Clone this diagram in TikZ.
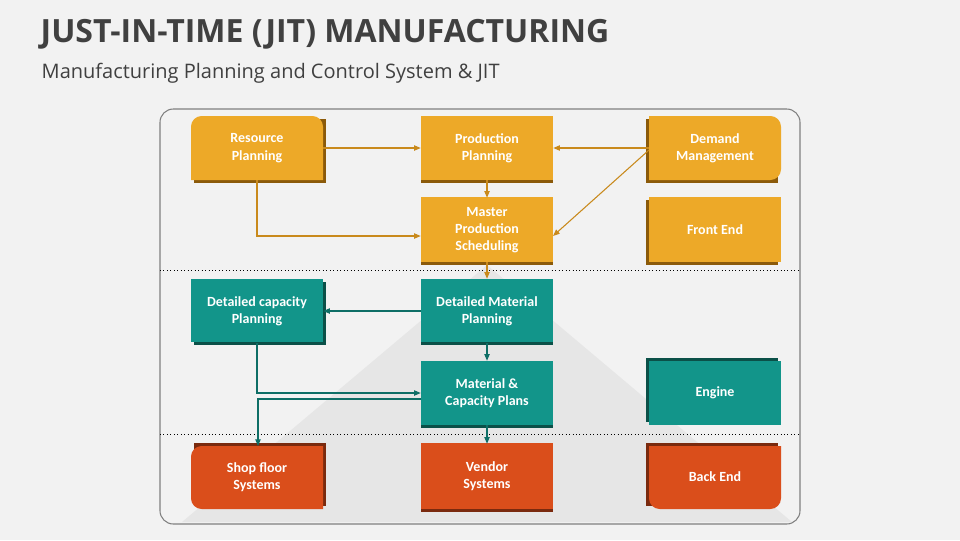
\documentclass[tikz,border=0pt]{standalone}
\usepackage{fontspec}
\setmainfont{Carlito}
\newfontfamily\titlefont{Open Sans}
\usetikzlibrary{arrows.meta}
\definecolor{bg}{HTML}{F2F2F2}
\definecolor{tri}{HTML}{E6E6E6}
\definecolor{org}{HTML}{EDA928}
\definecolor{orgd}{HTML}{8B5A0A}
\definecolor{orgl}{HTML}{C98A1C}
\definecolor{tea}{HTML}{12958A}
\definecolor{tead}{HTML}{0B5048}
\definecolor{teal2}{HTML}{0E6E66}
\definecolor{red1}{HTML}{DA4E1B}
\definecolor{redd}{HTML}{7A2A0E}
\definecolor{ttl}{HTML}{404040}
\begin{document}
\begin{tikzpicture}[x=0.75pt,y=-0.75pt,
 box/.style={minimum width=99pt,minimum height=48pt,text=white,align=center,font=\fontsize{10.5}{13}\selectfont\bfseries,inner sep=0pt},
 oarr/.style={draw=orgl,line width=0.8pt,-{Triangle[length=5pt,width=4pt]}},
 tarr/.style={draw=teal2,line width=0.8pt,-{Triangle[length=5pt,width=4pt]}}]
\fill[bg] (0,0) rectangle (960,540);
\useasboundingbox (0,0) rectangle (960,540);
\node[anchor=west,text=ttl,font=\titlefont\fontsize{24}{28}\selectfont\bfseries] (title) at (36,34) {JUST-IN-TIME (JIT) MANUFACTURING};
\node[anchor=west,text=ttl,font=\titlefont\fontsize{15}{18}\selectfont] (sub) at (37,73) {Manufacturing Planning and Control System \& JIT};
\fill[tri] (487,265) -- (792,522) -- (182,522) -- cycle;
\draw[gray,line width=0.8pt,rounded corners=10pt] (160,109) rectangle (800,524);
\draw[black,dotted,line width=0.6pt] (160,270) -- (800,270);
\draw[black,dotted,line width=0.6pt] (160,434) -- (800,434);
% shadows
\fill[orgd] (194,119) rectangle (326,183);
\fill[orgd] (421,119) rectangle (553,183);
\fill[orgd] (646,119) rectangle (778,183);
\fill[orgd] (421,200) rectangle (553,265);
\fill[orgd] (646,200) rectangle (778,265);
\fill[tead] (194,282) rectangle (326,345);
\fill[tead] (421,282) rectangle (553,345);
\fill[tead] (421,364) rectangle (553,428);
\fill[tead] (646,358) rectangle (778,422);
\fill[redd] (194,443) rectangle (326,506);
\fill[redd] (421,446) rectangle (553,512);
\fill[redd] (646,443) rectangle (778,506);
% boxes
\fill[org,rounded corners=8pt] (191,180) -- (191,116) -- (323,116) [sharp corners] -- (323,180) -- cycle;
\node[box] (rp) at (257,148) {Resource\\Planning};
\fill[org] (421,116) rectangle (553,180);
\node[box] (pp) at (487,148) {Production\\Planning};
\fill[org,rounded corners=8pt] (649,116) -- (781,116) -- (781,180) [sharp corners] -- (649,180) -- cycle;
\node[box] (dm) at (715,148) {Demand\\Management};
\fill[org] (421,197) rectangle (553,262);
\node[box] (mps) at (487,230) {Master\\Production\\Scheduling};
\fill[org] (649,197) rectangle (781,262);
\node[box] (fe) at (715,230) {Front End};
\fill[tea] (191,279) rectangle (323,342);
\node[box] (dcp) at (257,311) {Detailed capacity\\Planning};
\fill[tea] (421,279) rectangle (553,342);
\node[box] (dmp) at (487,311) {Detailed Material\\Planning};
\fill[tea] (421,361) rectangle (553,425);
\node[box] (mcp) at (487,393) {Material \&\\Capacity Plans};
\fill[tea] (649,361) rectangle (781,425);
\node[box] (eng) at (715,393) {Engine};
\fill[red1,rounded corners=8pt] (323,446) -- (191,446) -- (191,509) [sharp corners] -- (323,509) -- cycle;
\node[box] (sfs) at (257,477) {Shop floor\\Systems};
\fill[red1] (421,443) rectangle (553,509);
\node[box] (vs) at (487,476) {Vendor\\Systems};
\fill[red1,rounded corners=8pt] (649,446) -- (649,509) -- (781,509) [sharp corners] -- (781,446) -- cycle;
\node[box] (be) at (715,477) {Back End};
% connectors
\draw[oarr] (rp.east) -- (pp.west);
\draw[oarr] (dm.west) -- (pp.east);
\draw[oarr] (pp.south) -- (mps.north);
\draw[oarr] (rp.south) -- (257,236) -- (mps.west |- 0,236);
\draw[oarr] (649,150) -- (553,236);
\draw[oarr] (mps.south) -- (dmp.north);
\draw[tarr] (dmp.west) -- (dcp.east);
\draw[tarr] (dmp.south) -- (mcp.north);
\draw[tarr] (dcp.south) -- (257,393) -- (mcp.west);
\draw[tarr] (421,399) -- (258,399) -- (258,446);
\draw[tarr] (mcp.south) -- (vs.north);
\end{tikzpicture}
\end{document}
